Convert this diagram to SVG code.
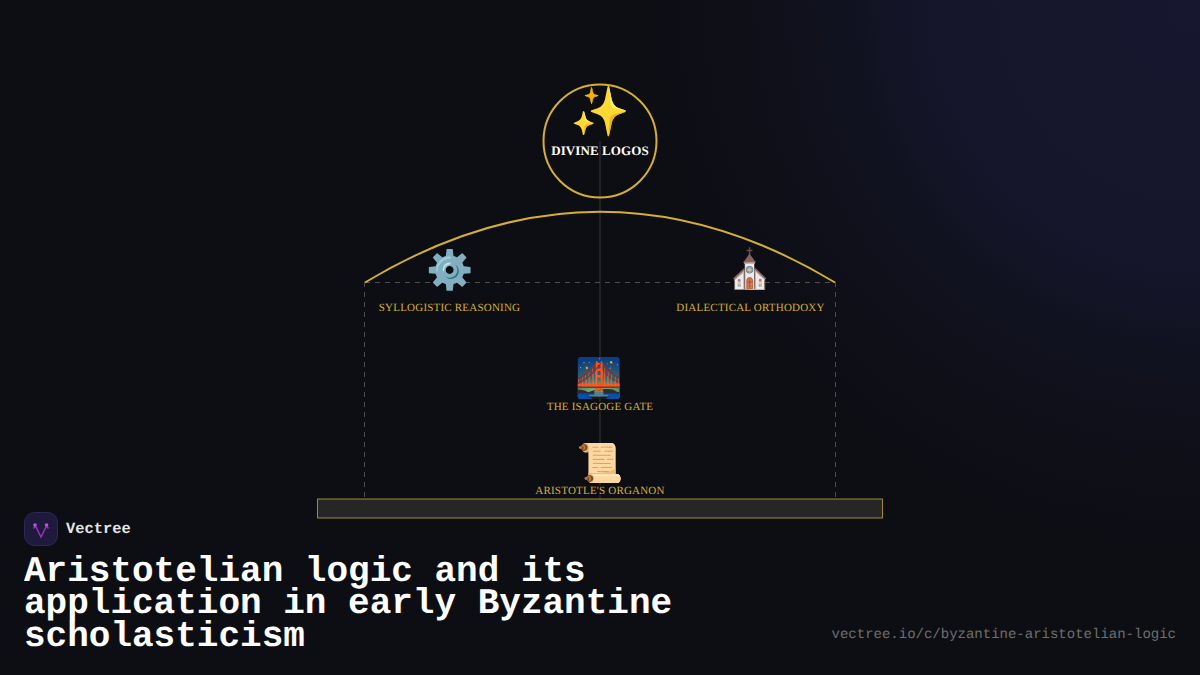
<svg xmlns="http://www.w3.org/2000/svg" width="1200" height="675" viewBox="0 0 1200 675">
<style>
text{text-rendering:geometricPrecision}
.lbl{font-family:"Liberation Serif",serif;font-size:11px;letter-spacing:.2px;fill:#d4af37;text-anchor:middle;stroke:#0d0e14;stroke-width:3px;stroke-opacity:.6;paint-order:stroke}
.em{font-family:"Noto Color Emoji","Liberation Sans",sans-serif;text-anchor:middle}
.dash{fill:none;stroke:#4d4d4d;stroke-width:1;stroke-dasharray:5 5}
.mono{font-family:"Liberation Mono",monospace}
.ttl{font-size:36px;font-weight:700;fill:#fff}
</style>
<defs>
<radialGradient id="glow" gradientUnits="userSpaceOnUse" cx="1200" cy="0" r="600">
<stop offset="0" stop-color="#171830"/>
<stop offset="0.45" stop-color="#15162b" stop-opacity="0.95"/>
<stop offset="1" stop-color="#0d0e14" stop-opacity="0"/>
</radialGradient>
</defs>
<rect id="bg" width="1200" height="675" fill="#0d0e14"/>
<rect width="1200" height="675" fill="url(#glow)"/>
<g opacity=".999">
<g id="connectors">
<line x1="600" y1="141" x2="600" y2="499" stroke="#222" stroke-width="2"/>
<path class="dash" d="M365 282.500H835"/>
<path class="dash" d="M364.500 282V499"/>
<path class="dash" d="M835.500 282V499"/>
<path d="M365 282.500Q600 141 835 282.500" fill="none" stroke="#d4af37" stroke-width="2"/>
</g>
<g id="node-base"><rect x="317.500" y="499" width="565" height="19" fill="#262626" stroke="#d4af37" stroke-opacity=".75" stroke-width="1"/></g>
<g id="node-divine-logos">
<circle cx="600" cy="141" r="56.500" fill="none" stroke="#d4af37" stroke-width="2"/>
<text class="em" x="600" y="127.500" font-size="48">✨</text>
<text x="600" y="155" font-family="'Liberation Serif',serif" font-size="13px" letter-spacing=".1" font-weight="700" fill="#fff" text-anchor="middle">DIVINE LOGOS</text>
</g>
<g id="node-syllogistic">
<text class="em" x="450" y="283" font-size="38">⚙️</text>
<text class="lbl" x="449.500" y="311">SYLLOGISTIC REASONING</text>
</g>
<g id="node-dialectical">
<text class="em" x="750.500" y="282" font-size="38">⛪</text>
<text class="lbl" x="750.500" y="311">DIALECTICAL ORTHODOXY</text>
</g>
<g id="node-isagoge">
<text class="em" x="599.500" y="391" font-size="38">🌉</text>
<text class="lbl" x="600" y="410">THE ISAGOGE GATE</text>
</g>
<g id="node-organon">
<text class="em" x="600" y="476" font-size="38">📜</text>
<text class="lbl" x="600" y="494">ARISTOTLE'S ORGANON</text>
</g>
<g id="brand">
<rect x="24.500" y="512.500" width="33" height="33" rx="10" fill="#1e1a3c" stroke="#2c2a55"/>
<path d="M35.500 526L41 537L46.500 526M35.500 526L33.500 528.500M46.500 526L48.500 528.500" fill="none" stroke="#9a2fc0" stroke-width="1.500"/>
<circle cx="35" cy="525" r="1.800" fill="#c04fe0"/><circle cx="46.500" cy="525" r="1.800" fill="#c04fe0"/>
<text class="mono" x="66" y="533" font-size="15.400" font-weight="700" fill="#e6e6e6">Vectree</text>
</g>
<g id="title" class="mono ttl">
<text x="24" y="580.500">Aristotelian logic and its</text>
<text x="24" y="612.500">application in early Byzantine</text>
<text x="24" y="645.500">scholasticism</text>
</g>
<text class="mono" x="1176" y="638" font-size="14" fill="#6e6e6e" text-anchor="end">vectree.io/c/byzantine-aristotelian-logic</text>
</g>
</svg>
